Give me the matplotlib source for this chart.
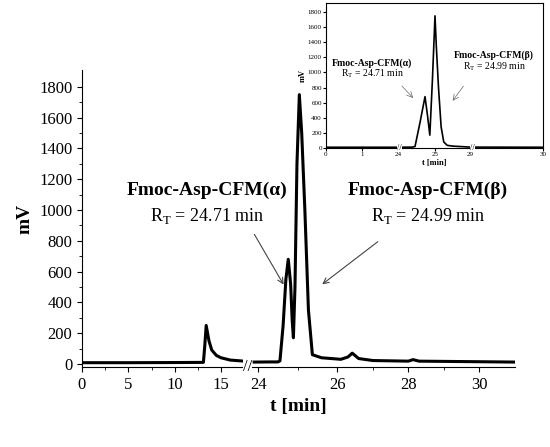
import numpy as np
import matplotlib
matplotlib.use("Agg")
import matplotlib.pyplot as plt

plt.rcParams['font.family'] = ['Liberation Serif', 'DejaVu Serif']

# main chromatogram
t_left = [0, 5, 10, 13.1, 13.25, 13.4, 13.7, 14.0, 14.5, 15, 16, 17.5]
v_left = [8, 8, 9, 10, 120, 250, 150, 90, 55, 40, 25, 18]
t_right = [23.9, 24.3, 24.5, 24.55, 24.63, 24.7, 24.76, 24.82, 24.86, 24.89, 24.93, 24.98, 25.04,
           25.1, 25.18, 25.27, 25.37, 25.6, 26.1, 26.3, 26.42, 26.6, 27.0, 28.0, 28.13, 28.3, 31]
v_right = [12, 13, 13, 20, 250, 550, 680, 520, 280, 170, 500, 1300, 1750,
           1500, 1000, 350, 60, 40, 30, 45, 70, 35, 22, 18, 28, 18, 12]
main_xticks = [0, 5, 10, 15, 24, 26, 28, 30]
main_yticks = list(range(0, 1801, 200))

# inset chromatogram
ti = [0, 1, 24, 24.4, 24.46, 24.6, 24.73, 24.8, 24.86, 24.93, 25.0, 25.15, 25.4, 25.7, 26.0, 26.4, 27, 29, 30]
vi = [10, 10, 10, 12, 20, 350, 680, 420, 170, 900, 1750, 1350, 800, 280, 80, 35, 25, 12, 10]
in_xticks = [0, 1, 24, 25, 29, 30]
in_yticks = list(range(0, 1801, 200))

def mk(tb, ub):
    tb = np.array(tb, float); ub = np.array(ub, float)
    def fwd(x):
        return np.interp(np.asarray(x, float), tb, ub)
    def inv(u):
        return np.interp(np.asarray(u, float), ub, tb)
    return fwd, inv

H = 447
def fp(x, y):
    return (x, H - y)

fig = plt.figure(figsize=(5.5, 4.47), dpi=100)
ax = fig.add_axes([82/550, 1-367/447, (515-82)/550, (367-70)/447])
ax.set_xscale('function', functions=mk([-50, 0, 17.5, 23.8, 24, 26, 31, 80], [-400, 82, 244, 250, 258, 337, 514.5, 2300]))
ax.plot(t_left, v_left, color='black', lw=2.2)
ax.plot(t_right, v_right, color='black', lw=2.2)
ax.set_xlim(0, 31)
ax.set_ylim(-20, 1910)
ax.set_xticks(main_xticks)
ax.set_yticks(main_yticks)
ax.set_xticks([2.5, 7.5, 12.5, 25, 27, 29], minor=True)
ax.set_yticks(list(range(100, 1801, 200)), minor=True)
ax.tick_params(labelsize=12, direction='out')
for s in ['top', 'right']:
    ax.spines[s].set_visible(False)
ax.set_xlabel('t [min]', fontsize=14, fontweight='bold')
ax.set_ylabel('mV', fontsize=14, fontweight='bold')
ax.text(20.6, -20, '//', fontsize=12, ha='center', va='center',
        bbox=dict(facecolor='white', edgecolor='none', pad=0))

kw = dict(xycoords='figure pixels', ha='center', va='center')
ax.annotate('Fmoc-Asp-CFM(α)', fp(207, 190), fontsize=14, fontweight='bold', **kw)
ax.annotate(r'R$_\mathregular{T}$ = 24.71 min', fp(207, 216), fontsize=13, **kw)
ax.annotate('Fmoc-Asp-CFM(β)', fp(428, 190), fontsize=14, fontweight='bold', **kw)
ax.annotate(r'R$_\mathregular{T}$ = 24.99 min', fp(428, 216), fontsize=13, **kw)
ax.annotate('', xy=fp(285, 287), xytext=fp(253, 232), xycoords='figure pixels',
            arrowprops=dict(arrowstyle='->', color='#444', lw=0.8))
ax.annotate('', xy=fp(320, 286), xytext=fp(380, 240), xycoords='figure pixels',
            arrowprops=dict(arrowstyle='->', color='#444', lw=0.8))

ia = fig.add_axes([326/550, 1-148/447, (543-326)/550, (148-3)/447])
ia.set_xscale('function', functions=mk([-50, 0, 1, 24, 25, 29, 30, 80], [-1500, 326, 362, 398, 435, 470, 543, 4200]))
ia.plot(ti, vi, color='black', lw=1.2)
ia.set_xlim(0, 30)
ia.set_ylim(0, 1920)
ia.set_xticks(in_xticks)
ia.set_yticks(in_yticks)
ia.tick_params(labelsize=5, length=2, pad=1)
ia.set_xlabel('t [min]', fontsize=6, fontweight='bold', labelpad=1)
ia.set_ylabel('mV', fontsize=6, fontweight='bold', labelpad=1)
for xb in [24.05, 29.03]:
    ia.text(xb, 0, '//', fontsize=6, ha='center', va='center',
            bbox=dict(facecolor='white', edgecolor='none', pad=0))
ia.annotate('Fmoc-Asp-CFM(α)', fp(372, 63), fontsize=7, fontweight='bold', **kw)
ia.annotate(r'R$_\mathregular{T}$ = 24.71 min', fp(372, 74), fontsize=7, **kw)
ia.annotate('Fmoc-Asp-CFM(β)', fp(494, 55), fontsize=7, fontweight='bold', **kw)
ia.annotate(r'R$_\mathregular{T}$ = 24.99 min', fp(494, 67), fontsize=7, **kw)
ia.annotate('', xy=fp(415, 100), xytext=fp(400, 84), xycoords='figure pixels',
            arrowprops=dict(arrowstyle='->', color='#666', lw=0.5))
ia.annotate('', xy=fp(451, 103), xytext=fp(465, 84), xycoords='figure pixels',
            arrowprops=dict(arrowstyle='->', color='#666', lw=0.5))

fig.savefig('out.png', dpi=100)
